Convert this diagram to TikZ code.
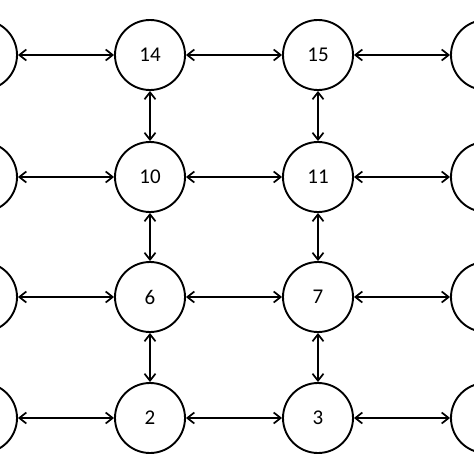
\documentclass[tikz,border=0pt]{standalone}
\usepackage{fontspec}
\setmainfont{Carlito}
\usetikzlibrary{arrows.meta}
\begin{document}
\begin{tikzpicture}[x=1pt,y=-1pt,
  cell/.style={circle,draw,line width=1.9pt,minimum size=70pt,inner sep=0pt,font=\fontsize{21}{21}\selectfont},
  link/.style={line width=1.7pt,{Straight Barb[length=7pt,width=11pt]}-{Straight Barb[length=7pt,width=11pt]}}]
\useasboundingbox (0,0) rectangle (474,474);
% columns: -18, 150, 318, 486 ; rows: 55, 177, 297, 418
\node[cell] (a3) at (-18,55) {};
\node[cell] (b3) at (150,55) {14};
\node[cell] (c3) at (318,55) {15};
\node[cell] (d3) at (486,55) {};
\node[cell] (a2) at (-18,177) {};
\node[cell] (b2) at (150,177) {10};
\node[cell] (c2) at (318,177) {11};
\node[cell] (d2) at (486,177) {};
\node[cell] (a1) at (-18,297) {};
\node[cell] (b1) at (150,297) {6};
\node[cell] (c1) at (318,297) {7};
\node[cell] (d1) at (486,297) {};
\node[cell] (a0) at (-18,418) {};
\node[cell] (b0) at (150,418) {2};
\node[cell] (c0) at (318,418) {3};
\node[cell] (d0) at (486,418) {};
\foreach \r in {0,1,2,3}{
  \draw[link] (a\r) -- (b\r);
  \draw[link] (b\r) -- (c\r);
  \draw[link] (c\r) -- (d\r);
}
\foreach \c in {b,c}{
  \draw[link] (\c3) -- (\c2);
  \draw[link] (\c2) -- (\c1);
  \draw[link] (\c1) -- (\c0);
}
\end{tikzpicture}
\end{document}
